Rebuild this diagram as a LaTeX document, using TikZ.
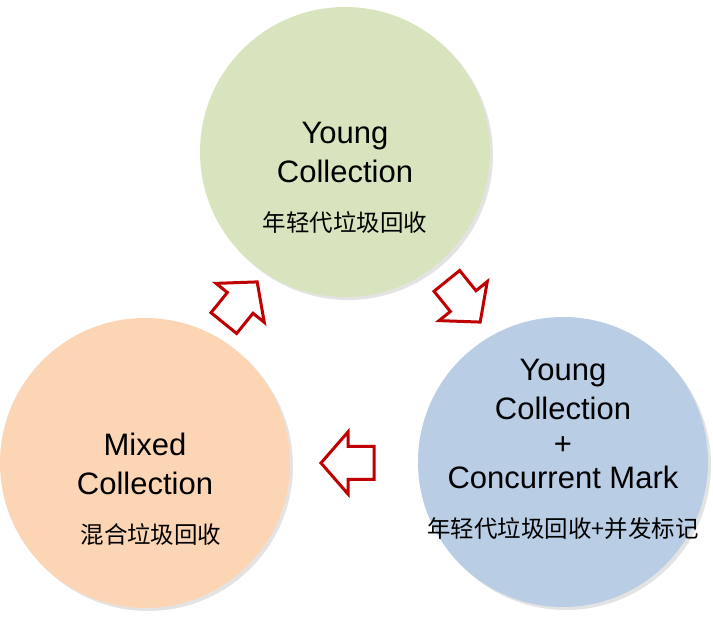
\documentclass[tikz,border=0pt]{standalone}
\usepackage{fontspec}
\setmainfont{Liberation Sans}
\newfontfamily\cjk{Noto Sans CJK SC}
\usetikzlibrary{
  shadows,
  positioning
}
\definecolor{younggreen}{RGB}{215,228,189}
\definecolor{concblue}{RGB}{185,205,229}
\definecolor{mixedorange}{RGB}{252,213,181}
\definecolor{arrowred}{RGB}{192,0,0}
\newcommand{\cnline}[1]{{\cjk\fontsize{23.5}{23.5}\selectfont #1}}
\tikzset{
  phasecircle/.style={
    circle, draw=none, minimum size=290pt, inner sep=0pt,
    drop shadow={shadow xshift=3pt, shadow yshift=-3pt, opacity=0.22}
  },
  phasetext/.style={
    align=center, inner sep=0pt, anchor=north,
    font=\fontsize{31}{39}\selectfont
  },
  cyclearrow/.style={
    draw=arrowred, fill=white, line width=3pt, line join=miter
  },
  blockarrow/.pic={
    \path[cyclearrow] (26.5,0) -- (-0.5,31) -- (-0.5,16.5)
      -- (-26.5,16.5) -- (-26.5,-16.5) -- (-0.5,-16.5)
      -- (-0.5,-31) -- cycle;
  },
}

\begin{document}
\begin{tikzpicture}[x=1pt, y=1pt]

  \useasboundingbox (0,0) rectangle (713,620);

  %% Phases
  \node[phasecircle, fill=younggreen] (young) at (345,468) {};
  \node[phasecircle, fill=concblue] (conc) at (563,158) {};
  \node[phasecircle, fill=mixedorange] (mixed) at (145,157) {};

  \node[phasetext] (youngtxt) at ([yshift=30pt]young.center)
    {Young\\Collection\\[10pt]\cnline{年轻代垃圾回收}};
  \node[phasetext] (conctxt) at ([yshift=103pt]conc.center)
    {Young\\Collection\\[-4.5pt]+\\[-4.5pt]Concurrent Mark\\[10pt]%
     \cnline{年轻代垃圾回收+并发标记}};
  \node[phasetext] (mixedtxt) at ([yshift=30pt]mixed.center)
    {Mixed\\Collection\\[10pt]\hspace{12pt}\cnline{混合垃圾回收}};

  %% Cycle arrows
  \pic[rotate=-51] (y2c) at (463.5,318.5) {blockarrow};
  \pic[rotate=180] (c2m) at (347.5,157) {blockarrow};
  \pic[rotate=51] (m2y) at (240.5,317.5) {blockarrow};

\end{tikzpicture}
\end{document}
